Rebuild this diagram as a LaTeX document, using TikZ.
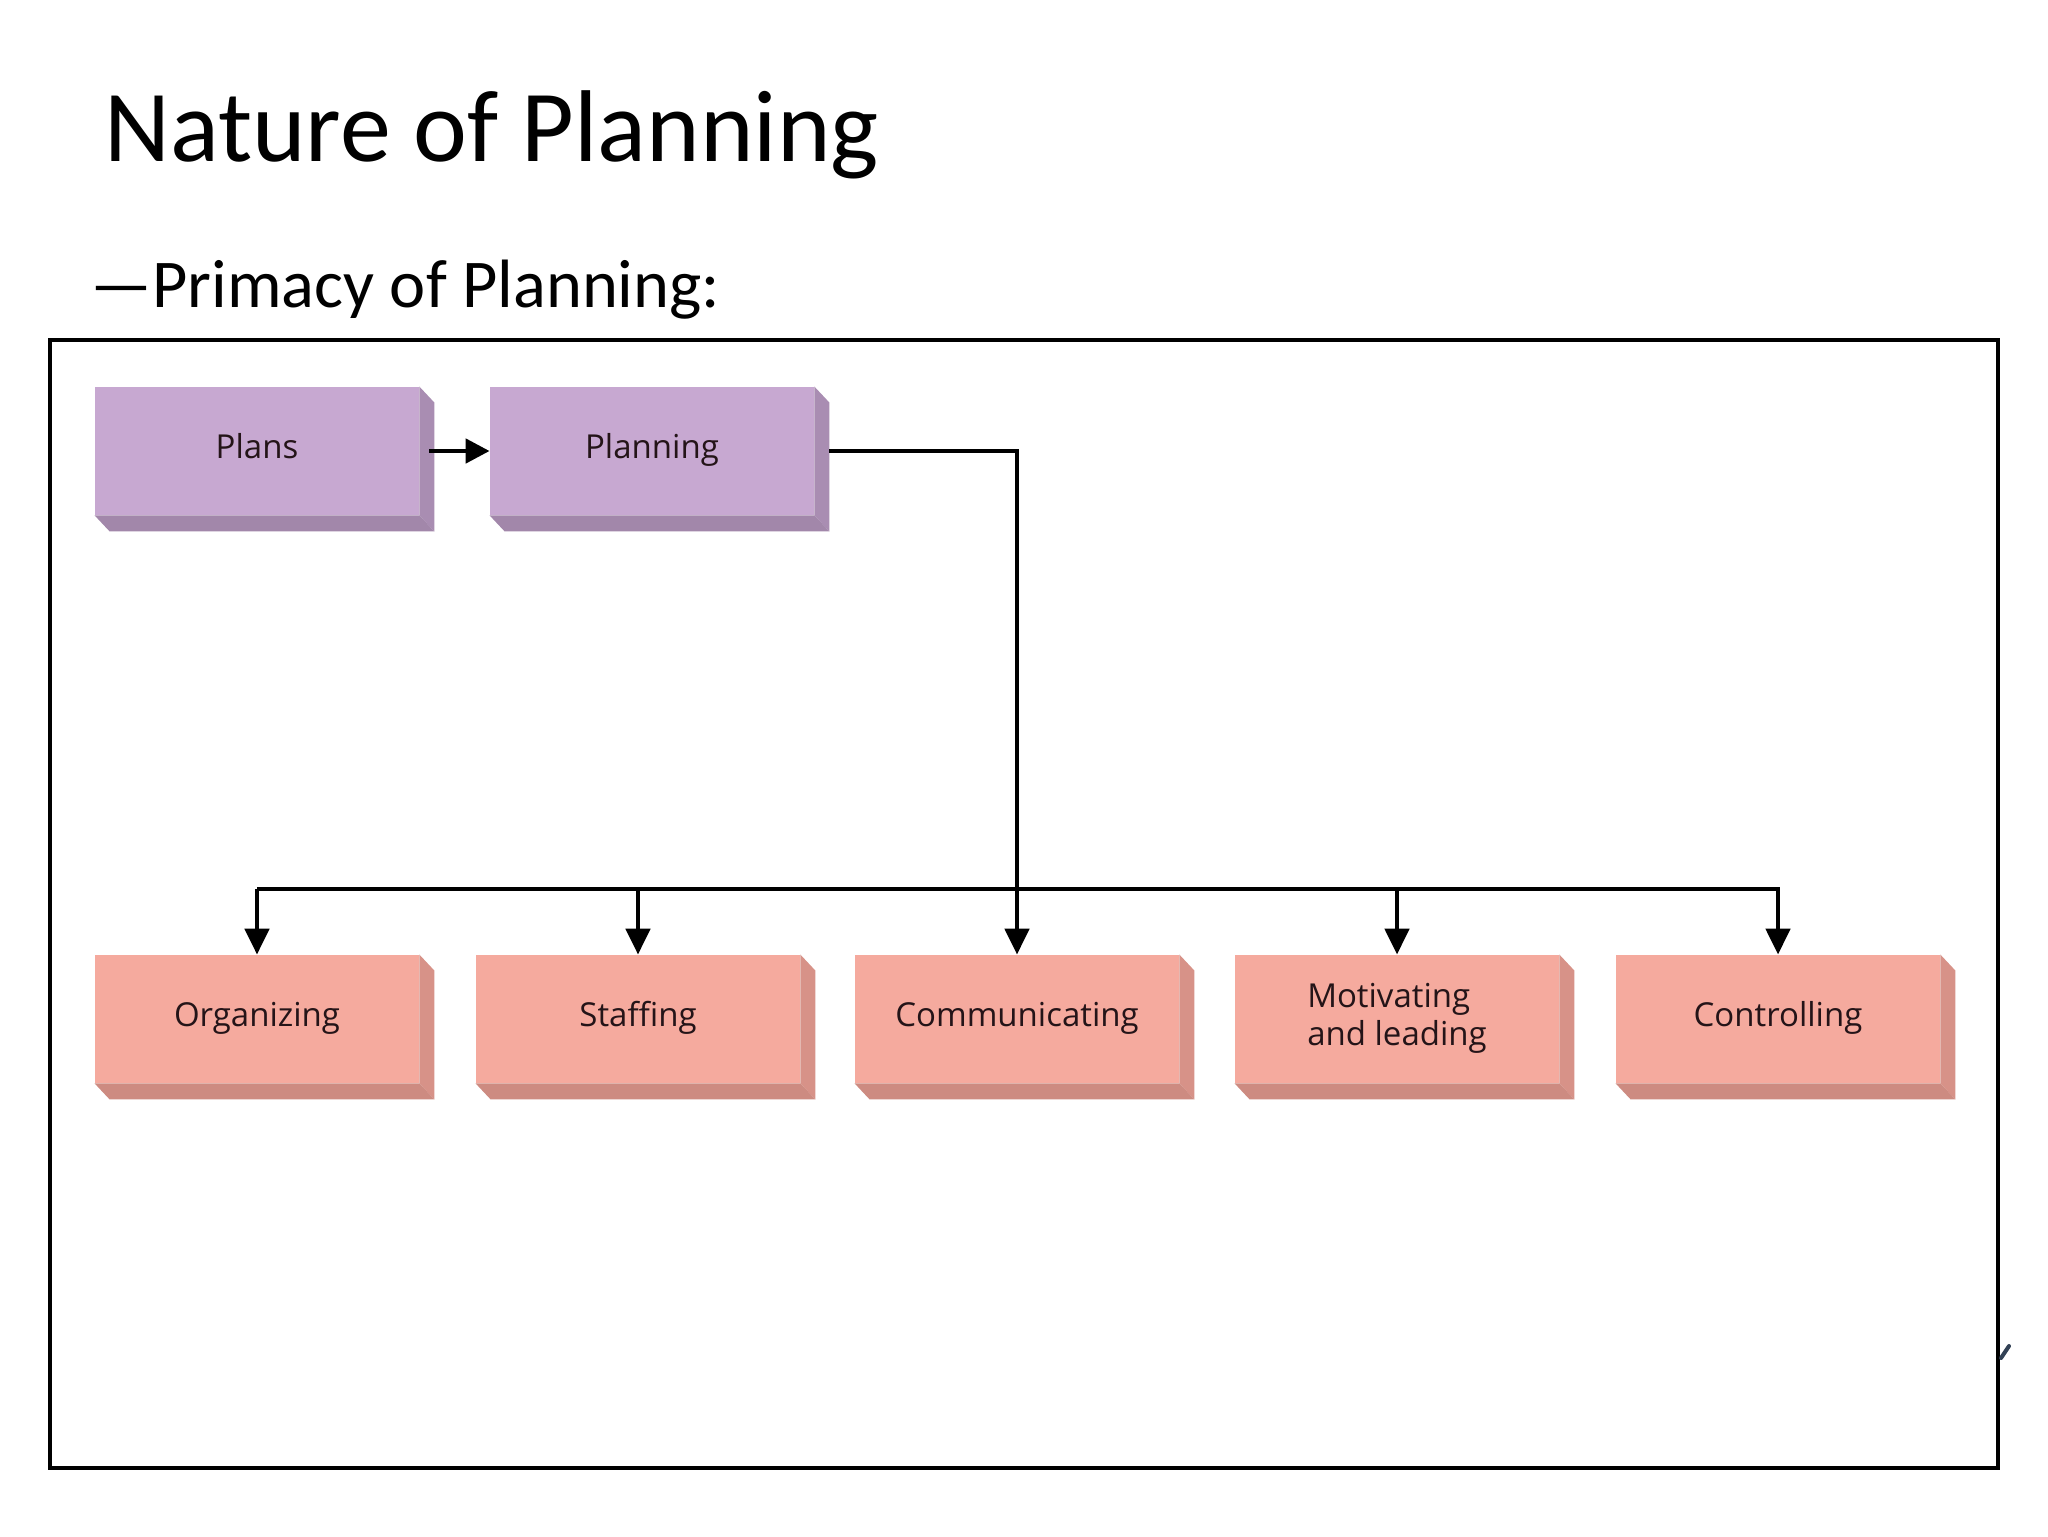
\documentclass[tikz,border=0pt]{standalone}
\usepackage{fontspec}
\setmainfont{Carlito}
\newfontfamily\boxfont{Open Sans}
\usetikzlibrary{arrows.meta,calc}
\definecolor{purpfront}{HTML}{C7A8D1}
\definecolor{purpside}{HTML}{A98DB2}
\definecolor{purpbottom}{HTML}{A287AA}
\definecolor{pinkfront}{HTML}{F5AA9E}
\definecolor{pinkside}{HTML}{D79288}
\definecolor{pinkbottom}{HTML}{CD8B81}
\definecolor{boxtext}{HTML}{241418}
\tikzset{
  blockbox/.style={minimum width=162pt, minimum height=64pt, inner sep=0pt,
    font=\boxfont\fontsize{16.5pt}{19pt}\selectfont, text=boxtext, align=left},
  planbox/.style={blockbox, fill=purpfront},
  funcbox/.style={blockbox, fill=pinkfront},
  conn/.style={line width=2.4pt, black, line join=miter},
  tipside/.style={-{Triangle[length=12pt,width=12pt]}},
  tipdown/.style={-{Triangle[length=13pt,width=12pt]}},
}
\newcommand{\boxdepth}[3]{%
  \fill[#2] (#1.north east) -- ($(#1.north east)+(15,16)$) -- ($(#1.south east)+(15,16)$) -- (#1.south east) -- cycle;
  \fill[#3] (#1.south west) -- (#1.south east) -- ($(#1.south east)+(15,16)$) -- ($(#1.south west)+(15,16)$) -- cycle;}
\begin{document}
\begin{tikzpicture}[x=0.5pt,y=-0.5pt]
\useasboundingbox[fill=white] (0,0) rectangle (2048,1536);
% titles
\node[anchor=base west, inner sep=0pt, font=\fontsize{51pt}{61pt}\selectfont] (title) at (104,162) {Nature of Planning};
\node[anchor=base west, inner sep=0pt, font=\fontsize{34.2pt}{41pt}\selectfont] (subtitle) at (90,307) {—Primacy of Planning:};
% frame
\draw[line width=1.7pt] (50,340) rectangle (1998,1468);
\draw[line width=2pt, color={rgb,255:red,50;green,65;blue,85}, line cap=round] (2001,1358) -- (2009,1346);
% top boxes
\node[planbox] (plans) at (257,451) {Plans\strut};
\node[planbox] (planning) at (652,451) {Planning\strut};
\boxdepth{plans}{purpside}{purpbottom}
\boxdepth{planning}{purpside}{purpbottom}
% bottom boxes
\node[funcbox] (org) at (257,1019) {Organizing\strut};
\node[funcbox] (staff) at (638,1019) {Staffing\strut};
\node[funcbox] (comm) at (1017,1019) {Communicating\strut};
\node[funcbox] (motiv) at (1397,1019) {Motivating\strut\\and leading\strut};
\node[funcbox] (ctrl) at (1778,1019) {Controlling\strut};
\foreach \n in {org,staff,comm,motiv,ctrl}{\boxdepth{\n}{pinkside}{pinkbottom}}
% connectors
\coordinate (bus) at (0,889);
\draw[conn,tipside,shorten <=5pt] (plans) -- (planning);
\draw[conn,tipdown] ([xshift=7.5pt]planning.east) -| (comm.north);
\draw[conn,tipdown] (org.north |- bus) -- (ctrl.north |- bus) -- (ctrl.north);
\draw[conn,tipdown] (org.north |- bus) -- (org.north);
\draw[conn,tipdown] (staff.north |- bus) -- (staff.north);
\draw[conn,tipdown] (motiv.north |- bus) -- (motiv.north);
\end{tikzpicture}
\end{document}
